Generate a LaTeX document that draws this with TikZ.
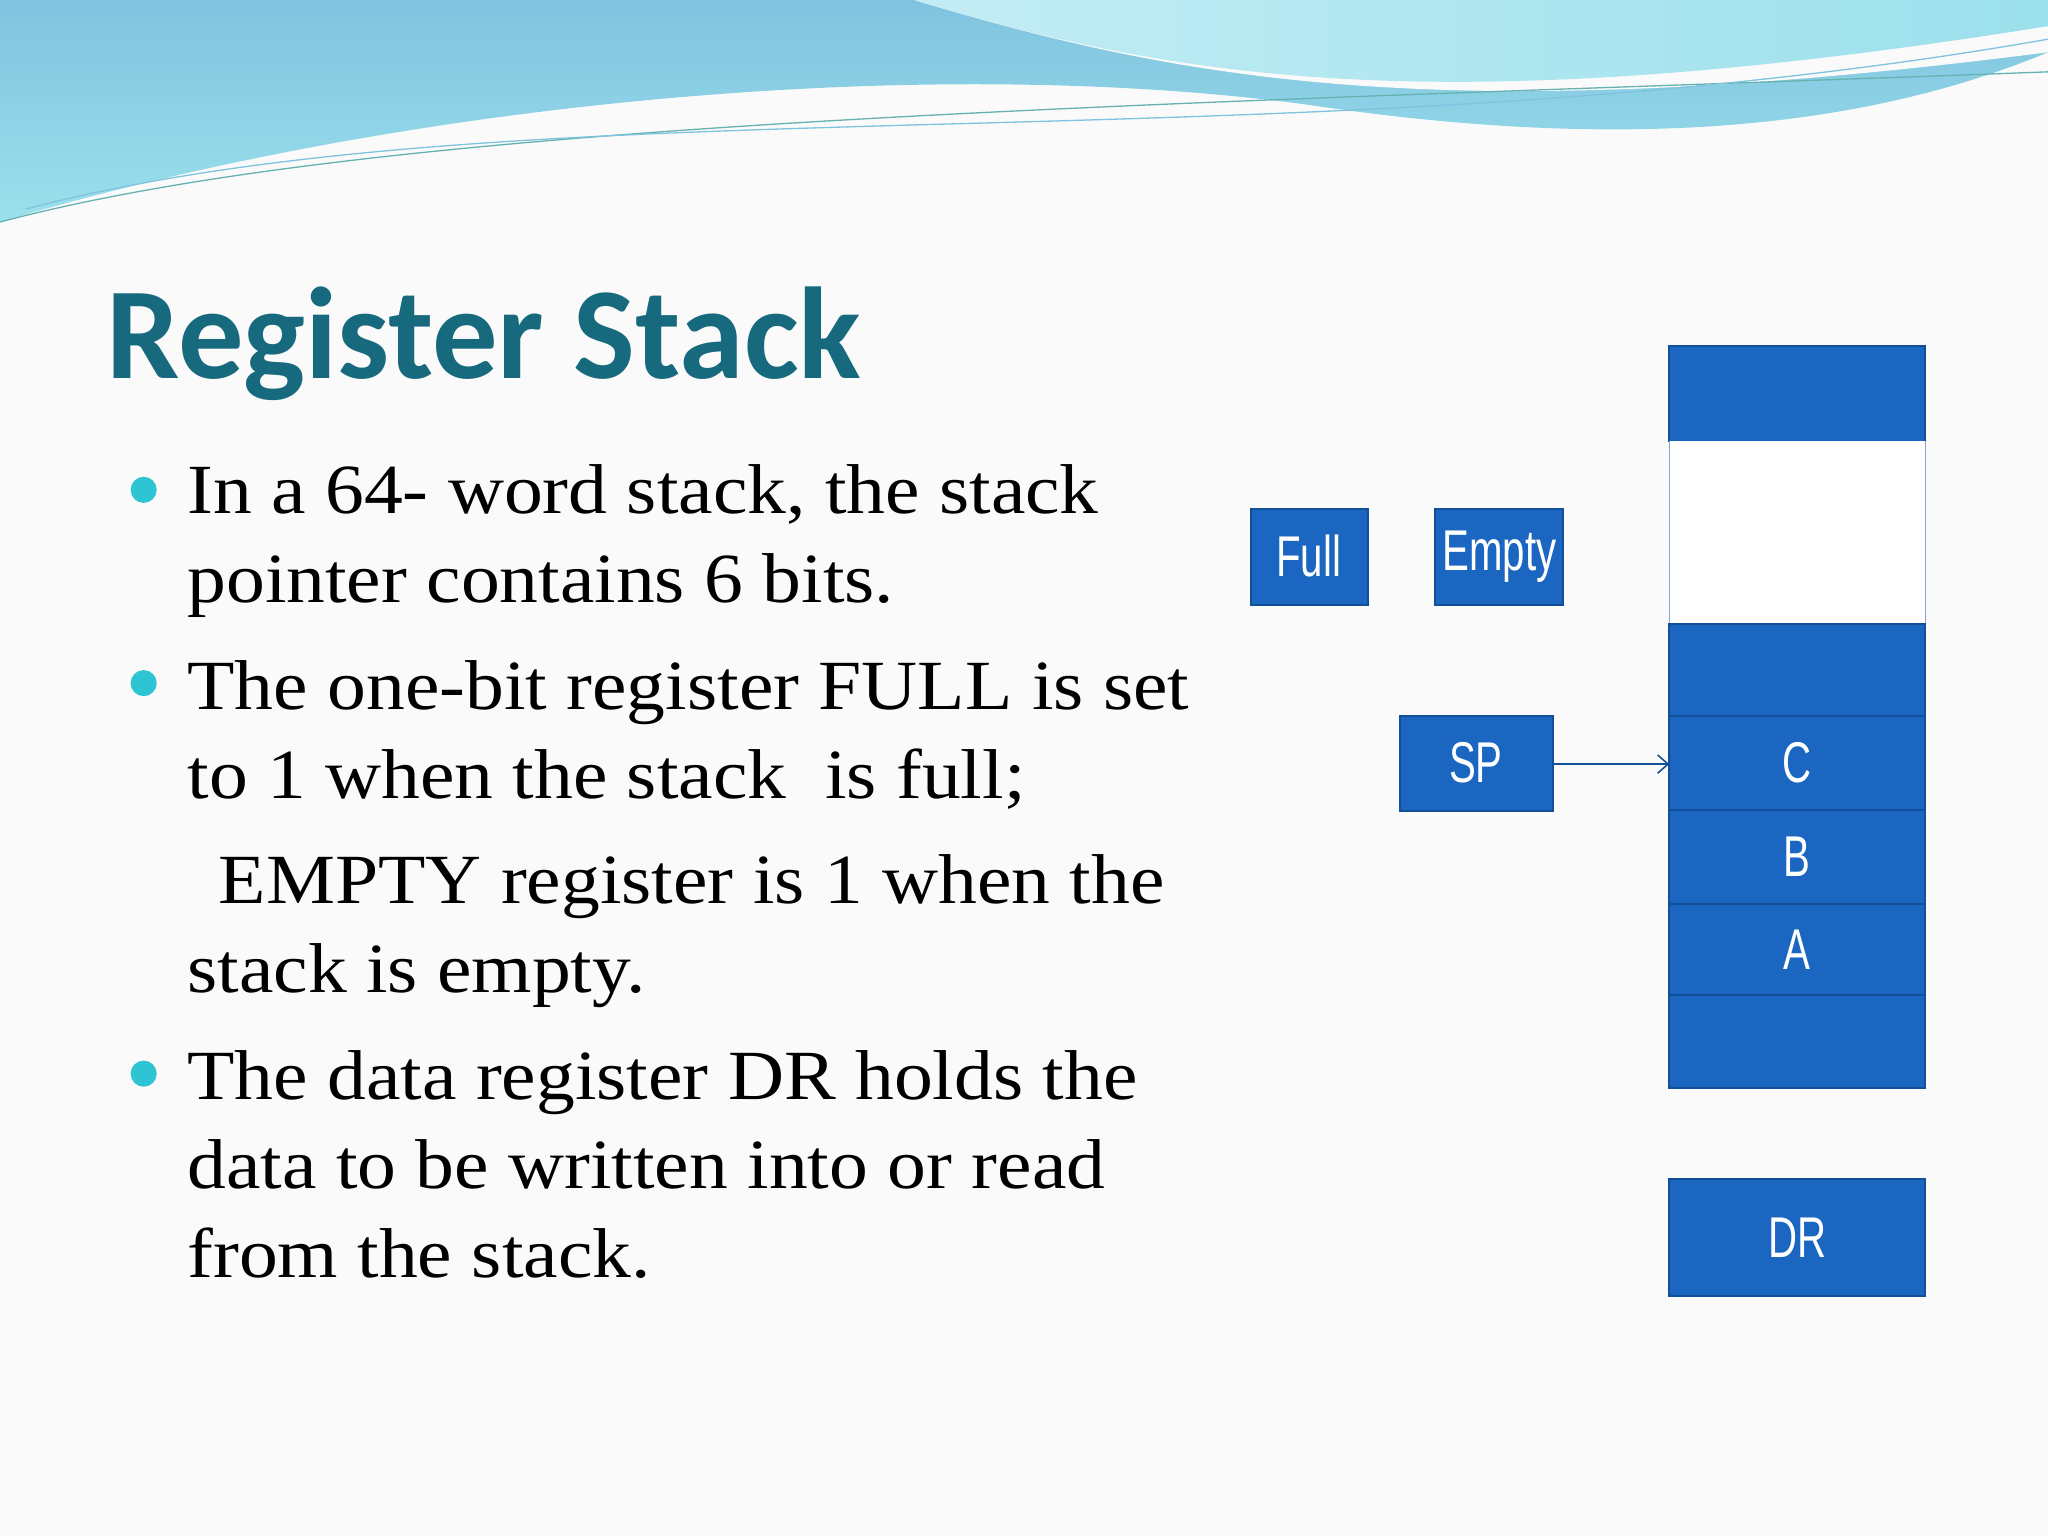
\documentclass[tikz,border=0pt]{standalone}
\usepackage{fontspec}
\usetikzlibrary{arrows.meta}
\setmainfont{Liberation Serif}
\newfontfamily\bodyfont[FakeStretch=1.1]{Liberation Serif}
\newfontfamily\titlefont{Carlito}
\newfontfamily\boxfont[FakeStretch=0.7]{Liberation Sans}
\definecolor{teal1}{HTML}{17697D}
\definecolor{boxblue}{HTML}{1A66C0}
\definecolor{edgeblue}{HTML}{134F99}
\definecolor{bul}{HTML}{2EC4D4}
\definecolor{wave1}{HTML}{7FC3DF}
\definecolor{wave2}{HTML}{9BE0EC}
\tikzset{reg/.style={fill=boxblue,draw=edgeblue,line width=1.5pt},
 regtxt/.style={text=white,font=\boxfont\fontsize{44}{46}\selectfont},
 body/.style={anchor=base west,font=\bodyfont\fontsize{54}{60}\selectfont,text=black},
 dot/.style={circle,fill=bul,inner sep=0pt,minimum size=20pt}}
\begin{document}
\begin{tikzpicture}[x=1pt,y=-1pt]
\useasboundingbox (0,0) rectangle (1568,1176);
\fill[white!96!gray] (0,0) rectangle (1568,1176);
% wave
\shade[top color=wave1,bottom color=wave2] (0,0) -- (1568,0) -- (1568,40) .. controls (1400,110) and (1200,110) .. (1000,80) .. controls (700,40) and (300,80) .. (0,170) -- cycle;
\fill[white!96!gray] (700,0) .. controls (900,60) and (1100,100) .. (1568,40) -- (1568,0) -- cycle;
\shade[left color=wave2!60!white,right color=wave2] (700,0) .. controls (900,60) and (1100,95) .. (1568,20) -- (1568,0) -- cycle;
\draw[teal!60,line width=1pt] (0,170) .. controls (300,90) and (900,80) .. (1568,55);
\draw[wave1,line width=1pt] (20,160) .. controls (400,60) and (1000,130) .. (1568,30);
% title
\node[anchor=base west,font=\titlefont\bfseries\fontsize{100}{100}\selectfont,text=teal1] (title) at (78,290) {Register Stack};
% bullets
\node[dot] (d1) at (110,375) {};
\node[dot] (d2) at (110,523) {};
\node[dot] (d3) at (110,822) {};
\node[body] (t1) at (140,393) {In a 64- word stack, the stack};
\node[body] (t2) at (140,461) {pointer contains 6 bits.};
\node[body] (t3) at (140,543) {The one-bit register FULL is set};
\node[body] (t4) at (140,611) {to 1 when the stack\ \ is full;};
\node[body] (t5) at (164,692) {EMPTY register is 1 when the};
\node[body] (t6) at (140,760) {stack is empty.};
\node[body] (t7) at (140,842) {The data register DR holds the};
\node[body] (t8) at (140,910) {data to be written into or read};
\node[body] (t9) at (140,978) {from the stack.};
% diagram
\draw[reg] (958,390) rectangle (1047,463);
\node[regtxt] (full) at (1002,426) {Full};
\draw[reg] (1099,390) rectangle (1197,463);
\node[regtxt] (empty) at (1148,426) {Empty};
\draw[reg] (1072,548) rectangle (1189,621);
\node[regtxt] (sp) at (1130,584) {SP};
\draw[reg] (1278,265) rectangle (1474,338);
\fill[white] (1278,338) rectangle (1474,478);
\draw[edgeblue!50,line width=1pt] (1278,338) -- (1278,478) (1474,338) -- (1474,478);
\draw[reg] (1278,478) rectangle (1474,548);
\draw[reg] (1278,548) rectangle (1474,620);
\draw[reg] (1278,620) rectangle (1474,692);
\draw[reg] (1278,692) rectangle (1474,762);
\draw[reg] (1278,762) rectangle (1474,833);
\node[regtxt] (c) at (1376,584) {C};
\node[regtxt] (b) at (1376,656) {B};
\node[regtxt] (a) at (1376,727) {A};
\coordinate (cw) at (1278,585);
\draw[reg] (1278,903) rectangle (1474,992);
\node[regtxt] (dr) at (1376,948) {DR};
\draw[-{Straight Barb[length=8pt,width=14pt]},edgeblue,line width=1.2pt] (1189,585) -- (cw);
\end{tikzpicture}
\end{document}
